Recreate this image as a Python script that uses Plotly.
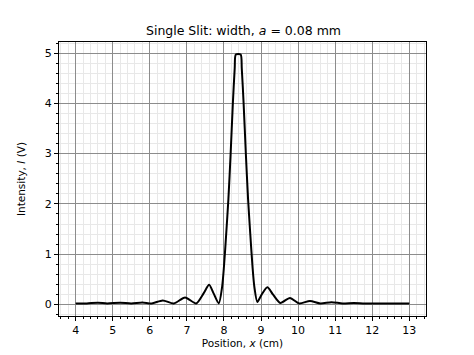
import plotly.graph_objects as go

# Data
position_cm = [4.0, 4.3, 4.6, 4.85, 5.2, 5.5, 5.8, 6.05, 6.35, 6.65, 6.95, 7.25,
               7.45, 7.6, 7.72, 7.86, 7.95, 8.0, 8.06, 8.12, 8.18, 8.24, 8.29,
               8.32, 8.45, 8.48, 8.53, 8.59, 8.65, 8.71, 8.77, 8.82, 8.9, 9.02,
               9.17, 9.32, 9.52, 9.78, 10.03, 10.32, 10.6, 10.9, 11.2, 11.5,
               11.8, 12.2, 12.6, 13.0]
intensity_v = [0.02, 0.02, 0.035, 0.02, 0.035, 0.02, 0.04, 0.02, 0.08, 0.02, 0.14, 0.02,
               0.22, 0.39, 0.22, 0.02, 0.35, 0.75, 1.4, 2.1, 3.0, 4.0, 4.7,
               4.97, 4.97, 4.7, 4.0, 3.0, 2.1, 1.4, 0.75, 0.35, 0.05, 0.2,
               0.34, 0.2, 0.03, 0.13, 0.02, 0.07, 0.02, 0.045, 0.02, 0.03,
               0.02, 0.02, 0.02, 0.02]

x_ticks = [4, 5, 6, 7, 8, 9, 10, 11, 12, 13]
y_ticks = [0, 1, 2, 3, 4, 5]

fig = go.Figure()
fig.add_trace(go.Scatter(x=position_cm, y=intensity_v, mode="lines",
                         line=dict(color="black", width=2, shape="spline", smoothing=0.7),
                         showlegend=False))

axis_common = dict(
    showline=True, linecolor="black", linewidth=1, mirror=True,
    ticks="outside", ticklen=4, tickcolor="black", tickwidth=1,
    showgrid=True, gridcolor="#8c8c8c", gridwidth=1.3, zeroline=False,
    automargin=False,
    tickfont=dict(family="DejaVu Sans", size=11, color="black"),
)

# page body has an 8px margin, so the figure is sized/offset to compensate
W, H = 466, 347
fig.update_layout(
    width=W, height=H,
    margin=dict(l=51, r=48, t=34, b=39),
    paper_bgcolor="white", plot_bgcolor="white",
    font=dict(family="DejaVu Sans", color="black"),
    title=dict(text="Single Slit: width, <i>a</i> = 0.08 mm", x=(243.5 - 8) / W, xanchor="center",
               y=1 - 23 / H, yref="container", yanchor="middle", automargin=False,
               font=dict(size=12.5, family="DejaVu Sans", color="black")),
    xaxis=dict(range=[3.55, 13.45], tickvals=x_ticks, ticktext=[str(v) for v in x_ticks],
               title=dict(text="Position, <i>x</i> (cm)", standoff=2,
                          font=dict(size=10.5, family="DejaVu Sans", color="black")),
               minor=dict(dtick=0.2, tick0=0, ticks="outside", ticklen=2, tickcolor="black",
                          showgrid=True, gridcolor="#e8e8e8", gridwidth=0.8),
               **axis_common),
    yaxis=dict(range=[-0.23, 5.22], tickvals=y_ticks, ticktext=[str(v) for v in y_ticks],
               title=dict(text="Intensity, <i>I</i> (V)", standoff=17,
                          font=dict(size=10.5, family="DejaVu Sans", color="black")),
               minor=dict(dtick=0.2, tick0=0, ticks="outside", ticklen=2, tickcolor="black",
                          showgrid=True, gridcolor="#e8e8e8", gridwidth=0.8),
               **axis_common),
)

fig.write_html("out.html")
